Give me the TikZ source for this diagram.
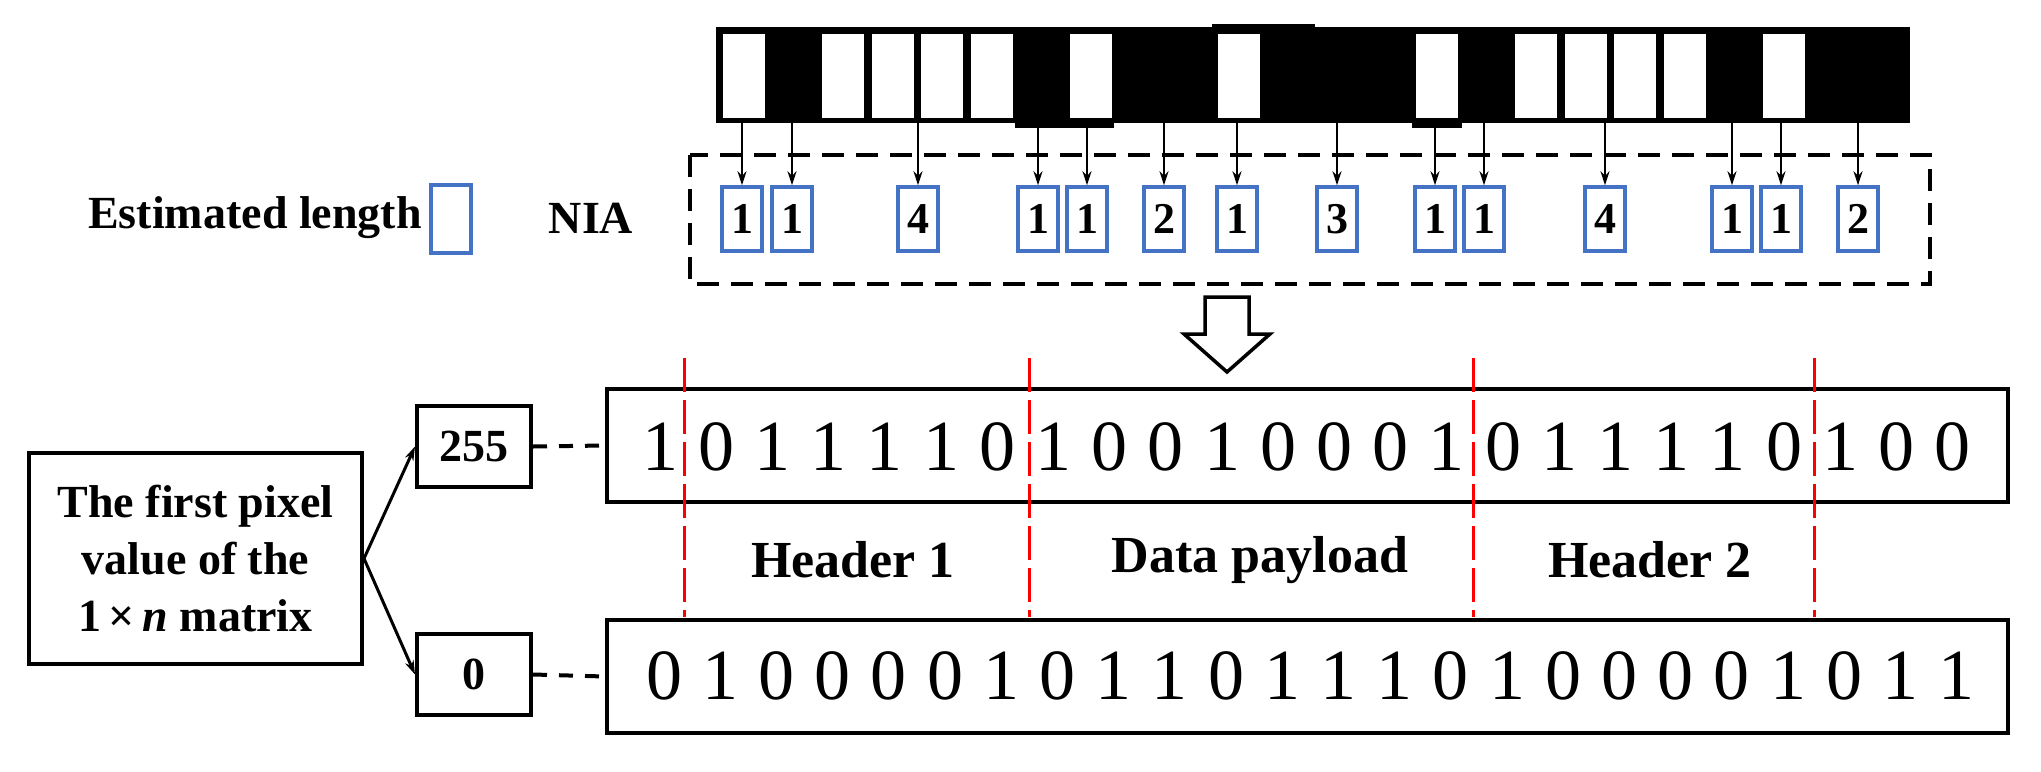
\documentclass[tikz,border=0pt]{standalone}
\usepackage{fontspec}
\setmainfont{Liberation Serif}
\usetikzlibrary{arrows.meta}
\definecolor{bl}{HTML}{4472C4}
\begin{document}
\begin{tikzpicture}[x=1pt,y=-1pt,
  blk/.style={draw,line width=4pt,inner sep=0},
  est/.style={draw=bl,line width=3.5pt,minimum width=40pt,minimum height=64pt,inner sep=0,font=\fontsize{44}{48}\selectfont\bfseries},
  dig/.style={font=\fontsize{72}{72}\selectfont,inner sep=0},
  lab/.style={font=\fontsize{52}{56}\selectfont\bfseries,inner sep=0},
  red/.style={draw=red,line width=3pt,dash pattern=on 34pt off 8pt},
  arr/.style={-{Stealth[length=14pt,width=9pt]},line width=1.8pt}]
\useasboundingbox (0,0) rectangle (2041,771);
% bar
\fill (716,27) rectangle (1910,123);
\fill (1015,123) rectangle (1114,128);
\fill (1212,24) rectangle (1315,27);
\fill (1412,123) rectangle (1462,128);
\foreach \i in {0,2,3,4,5,7,10,14,16,17,18,19,21}{
  \fill[white] ({723+49.5*\i},34) rectangle ({765+49.5*\i},118);}
% dashed box
\draw[line width=4pt,dash pattern=on 22pt off 12pt] (690,155) rectangle (1930,284);
\node[lab,font=\fontsize{46}{50}\selectfont\bfseries,anchor=east] (el) at (422,218) {Estimated length};
\node[est,minimum height=68pt] (eb) at (451,219) {};
\node[lab,font=\fontsize{46}{50}\selectfont\bfseries] (nia) at (591,218) {NIA};
\foreach \n/\x/\v in {a/742/1,b/792/1,c/918/4,d/1038/1,e/1087/1,f/1164/2,g/1237/1,h/1337/3,i/1435/1,j/1484/1,k/1605/4,l/1732/1,m/1781/1,o/1858/2}{
  \node[est] (\n) at (\x,219) {\v};
  \coordinate (t\n) at (\x,123);
  \draw[arr] (t\n) -- (\n.north);}
% hollow arrow
\draw[line width=3.5pt,fill=white] (1205,297) -- (1249,297) -- (1249,334) -- (1270,334) -- (1227,372) -- (1184,334) -- (1205,334) -- cycle;
% rows
\node[blk,minimum width=1401pt,minimum height=113pt] (r1) at (1307.5,445.5) {};
\node[blk,minimum width=1401pt,minimum height=113pt] (r2) at (1307.5,676.5) {};
\foreach \x in {684,1029,1473,1814}{\draw[red] (\x,358) -- (\x,617);}
\foreach \d [count=\k from 0] in {1,0,1,1,1,1,0,1,0,0,1,0,0,0,1,0,1,1,1,1,0,1,0,0}{
  \node[dig] at ({660+56.2*\k},447) {\d};}
\foreach \d [count=\k from 0] in {0,1,0,0,0,0,1,0,1,1,0,1,1,1,0,1,0,0,0,0,1,0,1,1}{
  \node[dig] at ({664+56.2*\k},676) {\d};}
\node[lab] (h1) at (853,560) {Header 1};
\node[lab] (dp) at (1260,560) {Data payload};
\node[lab] (h2) at (1650,560) {Header 2};
% left
\node[blk,minimum width=333pt,minimum height=211pt,align=center,font=\fontsize{46}{57}\selectfont\bfseries] (fp) at (195.5,558.5) {The first pixel\\value of the\\1\,×\,\textit{n} matrix};
\node[blk,minimum width=114pt,minimum height=81pt,font=\fontsize{46}{50}\selectfont\bfseries] (v255) at (474,446.5) {255};
\node[blk,minimum width=114pt,minimum height=81pt,font=\fontsize{46}{50}\selectfont\bfseries] (v0) at (474,674.5) {0};
\draw[arr,line width=3pt] (fp.east) -- (v255.west);
\draw[arr,line width=3pt] (fp.east) -- (v0.west);
\draw[line width=4pt,dash pattern=on 14pt off 12pt] (v255.east) -- (r1.west);
\draw[line width=4pt,dash pattern=on 14pt off 12pt] (v0.east) -- (r2.west);
\end{tikzpicture}
\end{document}
